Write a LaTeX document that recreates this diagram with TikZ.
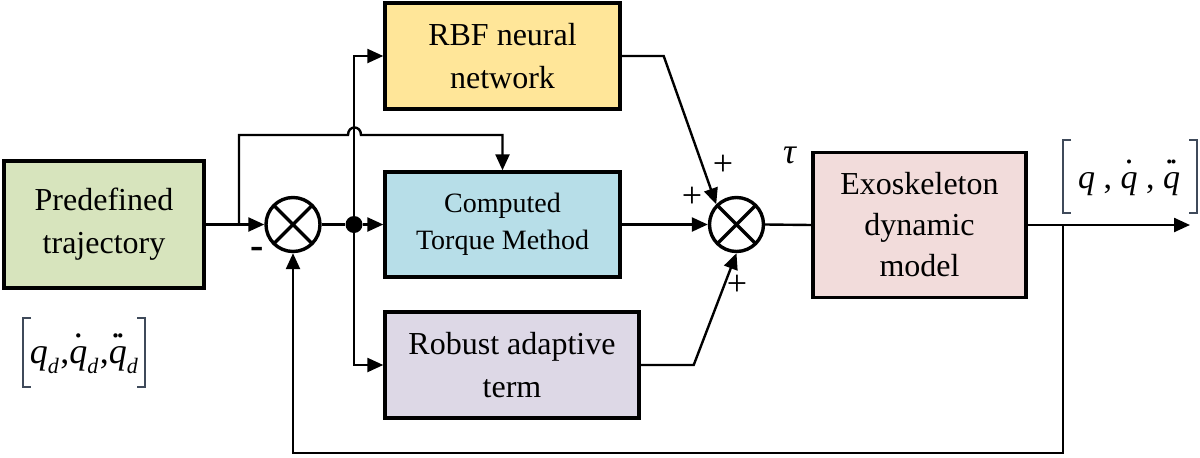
\documentclass[tikz,border=0pt]{standalone}
\usepackage{fontspec}
\setmainfont{Liberation Serif}
\usetikzlibrary{arrows.meta}
\definecolor{cgreen}{HTML}{D7E4BD}
\definecolor{cyellow}{HTML}{FFE699}
\definecolor{cblue}{HTML}{B7DEE8}
\definecolor{cpurple}{HTML}{DDD8E6}
\definecolor{cpink}{HTML}{F2DCDB}
\definecolor{cbrk}{HTML}{3F4A5A}
\newcommand\myqdot[1]{\makebox[0pt][l]{\makebox[0.5em][c]{\raisebox{0.72em}{\upshape #1}}}\textit{q}}
\newcommand\mysubd{\raisebox{-0.28em}{\fontsize{22}{22}\selectfont\textit{d}}}
\begin{document}
\begin{tikzpicture}[x=1pt,y=-1pt,
  box/.style={draw, line width=3.4pt, align=center, font=\fontsize{32}{43}\selectfont, inner sep=0pt},
  conn/.style={line width=2.4pt},
  arr/.style={conn,-{Triangle[length=16pt,width=14pt]}},
  sumj/.style={circle,draw,line width=3.4pt,minimum size=54pt,inner sep=0pt,
    path picture={\draw[line width=3.2pt] (path picture bounding box.north west)--(path picture bounding box.south east) (path picture bounding box.north east)--(path picture bounding box.south west);}},
  lbl/.style={font=\fontsize{36}{36}\selectfont, inner sep=0pt},
  brk/.style={line width=1.4pt, draw=cbrk}]
\useasboundingbox (0,0) rectangle (1200,458);

\node[box,fill=cgreen,minimum width=200pt,minimum height=127pt] (pt) at (104,224.5) {Predefined\\trajectory};
\node[box,fill=cyellow,minimum width=235pt,minimum height=106pt] (rbf) at (502.5,56) {RBF neural\\network};
\node[box,fill=cblue,minimum width=235pt,minimum height=105pt,font=\fontsize{28}{37}\selectfont] (ctm) at (502.5,224.5) {Computed\\Torque Method};
\node[box,fill=cpurple,minimum width=254pt,minimum height=106pt] (rob) at (512,365) {Robust adaptive\\term};
\node[box,fill=cpink,minimum width=213pt,minimum height=145pt,font=\fontsize{32}{41}\selectfont] (exo) at (919.5,225) {Exoskeleton\\dynamic\\model};
\node[sumj] (s1) at (293,224.5) {};
\node[sumj] (s2) at (736.5,224.5) {};
\node[circle,fill,minimum size=17pt,inner sep=0pt] (dot) at (354,224.5) {};
\coordinate (br) at (239,224.5);
\coordinate (j1) at (348,135);
\coordinate (j2) at (361,135);
\coordinate (fb) at (1063,225);
\coordinate (fbc) at (1063,453);
\coordinate (out) at (1190,225);

\draw[arr] (pt.east) -- (s1.west);
\draw[arr] (br) |- (j1) .. controls +(0,-10) and +(0,-10) .. (j2) -| (ctm.north);
\draw[conn] (s1.east) -- (dot);
\draw[arr] (dot) -- (ctm.west);
\draw[arr] (dot) |- (rbf.west);
\draw[arr] (dot) |- (rob.west);
\draw[arr] (rbf.east) -- ++(42,0) -- (s2.135);
\draw[arr] (ctm.east) -- (s2.west);
\draw[arr] (rob.east) -- ++(53,0) -- (s2.south);
\draw[conn] (s2.east) -- (exo.west);
\draw[arr] (exo.east) -- (out);
\draw[arr] (fb) -- (fbc) -| (s1.south);

\node[lbl] (pl1) at (723,165) {+};
\node[lbl] (pl2) at (692,197) {+};
\node[lbl] (pl3) at (737,285) {+};
\node[lbl] (tau) at (790,155) {\textit{τ}};
\node[lbl,font=\fontsize{40}{40}\selectfont\bfseries] (minus) at (257,253) {-};

\node[font=\fontsize{36}{36}\selectfont, inner sep=0pt] (qd) at (84,354) {\textit{q}\mysubd\kern0.04em,\myqdot{.}\mysubd\kern0.04em,\myqdot{.\kern-0.12em.}\mysubd};
\draw[brk] (31,318) -- (23,318) -- (23,387) -- (31,387);
\draw[brk] (137,318) -- (145,318) -- (145,387) -- (137,387);

\node[font=\fontsize{34}{34}\selectfont, inner sep=0pt] (qo) at (1129,178) {\textit{q} , \myqdot{.} , \myqdot{.\kern-0.12em.}};
\draw[brk] (1071,140) -- (1063,140) -- (1063,213) -- (1071,213);
\draw[brk] (1189,140) -- (1197,140) -- (1197,213) -- (1189,213);
\end{tikzpicture}
\end{document}
